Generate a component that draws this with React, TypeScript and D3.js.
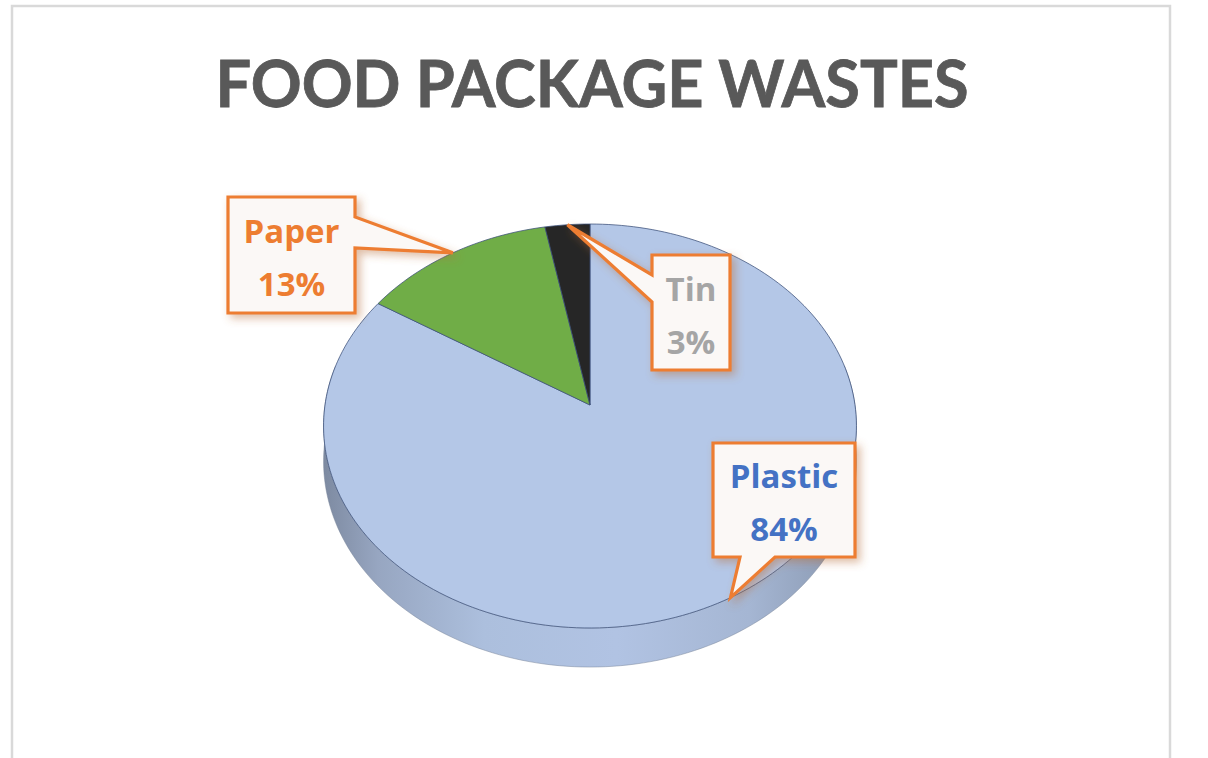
import React, { useEffect, useRef } from 'react';
import * as d3 from 'd3';

// chart data
const categories = ['Plastic', 'Paper', 'Tin'];
const shares = [84, 13, 3];
const title = 'FOOD PACKAGE WASTES';

// styles
const sliceColors = ['#b4c7e7', '#70ad47', '#262626'];
const labelColors = ['#4472c4', '#ed7d31', '#a5a5a5'];

// callout boxes (layout), pointer leaves box on `side` between a and b
const callouts = [
  { x: 713, y: 443, w: 142, h: 114, side: 'bottom', a: 740, b: 775 },
  { x: 228, y: 197, w: 127, h: 116, side: 'right', a: 217, b: 248 },
  { x: 652, y: 255, w: 78, h: 115, side: 'left', a: 275, b: 302 },
];

const W = 1208;
const H = 758;

const App: React.FC = () => {
  const chartRef = useRef<SVGSVGElement>(null);

  useEffect(() => {
    const svg = d3.select(chartRef.current);
    svg.selectAll('*').remove();

    // tilted disc seen in perspective
    const cx = 590;
    const cy = 405;
    const rx = 265;
    const ry = 199.8;
    const persp = 0.104;
    const depth = 35;

    const project = (angle: number, r = 1, drop = 0): [number, number] => {
      const u = r * Math.sin(angle);
      const v = -r * Math.cos(angle);
      const p = 1 / (1 - persp * v);
      return [cx + rx * u * p, cy + (ry * v + drop) * p];
    };
    const rim = (a0: number, a1: number, drop = 0) => {
      const n = Math.max(2, Math.ceil(((a1 - a0) / (Math.PI * 2)) * 240));
      return d3.range(n + 1).map((i) => project(a0 + ((a1 - a0) * i) / n, 1, drop));
    };
    const line = d3.line();

    const arcs = d3.pie<number>().sort(null).value((d) => d)(shares);
    const total = d3.sum(shares);

    const defs = svg.append('defs');
    const shadow = defs
      .append('filter')
      .attr('id', 'callout-shadow')
      .attr('x', '-20%')
      .attr('y', '-20%')
      .attr('width', '150%')
      .attr('height', '150%');
    shadow
      .append('feDropShadow')
      .attr('dx', 4)
      .attr('dy', 4)
      .attr('stdDeviation', 4)
      .attr('flood-color', '#b8703c')
      .attr('flood-opacity', 0.45);

    // chart border
    svg
      .append('rect')
      .attr('x', 12)
      .attr('y', 6)
      .attr('width', 1158)
      .attr('height', 900)
      .attr('fill', '#fff')
      .attr('stroke', '#d9d9d9')
      .attr('stroke-width', 2.5);

    svg
      .append('text')
      .attr('x', 592)
      .attr('y', 107)
      .attr('text-anchor', 'middle')
      .attr('font-family', 'Lato, "Open Sans", sans-serif')
      .attr('font-weight', 700)
      .attr('font-size', 65)
      .attr('fill', '#595959')
      .attr('stroke', '#595959')
      .attr('stroke-width', 0.8)
      .attr('textLength', 753)
      .attr('lengthAdjust', 'spacingAndGlyphs')
      .text(title);

    // side wall (front half only)
    const front0 = Math.PI / 2 - 0.2;
    const front1 = (Math.PI * 3) / 2 + 0.2;
    arcs.forEach((d, i) => {
      const lo = Math.max(d.startAngle, front0);
      const hi = Math.min(d.endAngle, front1);
      if (lo >= hi) return;
      const base = d3.color(sliceColors[i])!;
      const grad = defs
        .append('linearGradient')
        .attr('id', `side-${i}`)
        .attr('gradientUnits', 'userSpaceOnUse')
        .attr('x1', cx - rx)
        .attr('x2', cx + rx)
        .attr('y1', 0)
        .attr('y2', 0);
      [
        [0, base.darker(1.0)],
        [0.1, base.darker(0.5)],
        [0.3, base.darker(0.12)],
        [0.55, base.darker(0.05)],
        [0.8, base.darker(0.25)],
        [1, base.darker(0.8)],
      ].forEach(([o, c]) =>
        grad.append('stop').attr('offset', o as number).attr('stop-color', String(c))
      );
      const pts = rim(lo, hi).concat(rim(lo, hi, depth).reverse());
      svg
        .append('path')
        .attr('d', line(pts) + 'Z')
        .attr('fill', `url(#side-${i})`)
        .attr('stroke', base.darker(1.2).toString())
        .attr('stroke-width', 0.8)
        .attr('stroke-opacity', 0.6);
    });

    // top face slices
    arcs.forEach((d, i) => {
      const pts = [project(0, 0) as [number, number]].concat(rim(d.startAngle, d.endAngle));
      svg
        .append('path')
        .attr('d', line(pts) + 'Z')
        .attr('fill', sliceColors[i])
        .attr('stroke', '#3b4f78')
        .attr('stroke-width', 1)
        .attr('stroke-opacity', 0.75)
        .attr('stroke-linejoin', 'round');
    });

    // callouts
    arcs.forEach((d, i) => {
      const c = callouts[i];
      const tip = project((d.startAngle + d.endAngle) / 2);
      const { x, y, w, h, side, a, b } = c;
      const pts: [number, number][] = [[x, y], [x + w, y]];
      if (side === 'right') pts.push([x + w, a], tip, [x + w, b]);
      pts.push([x + w, y + h]);
      if (side === 'bottom') pts.push([b, y + h], tip, [a, y + h]);
      pts.push([x, y + h]);
      if (side === 'left') pts.push([x, b], tip, [x, a]);

      const g = svg.append('g');
      g.append('path')
        .attr('d', line(pts) + 'Z')
        .attr('fill', '#fbf8f6')
        .attr('stroke', '#ed7d31')
        .attr('stroke-width', 3.2)
        .attr('stroke-linejoin', 'miter')
        .attr('filter', 'url(#callout-shadow)');

      const pct = Math.round((d.value / total) * 100) + '%';
      [categories[i], pct].forEach((t, k) => {
        g.append('text')
          .attr('x', x + w / 2)
          .attr('y', y + h / 2 - 12 + k * 53)
          .attr('text-anchor', 'middle')
          .attr('font-family', '"Open Sans", Lato, sans-serif')
          .attr('font-weight', 700)
          .attr('font-size', 33)
          .attr('fill', labelColors[i])
          .text(t);
      });
    });
  }, []);

  return (
    <svg
      ref={chartRef}
      width={W}
      height={H}
      style={{ position: 'absolute', left: 0, top: 0 }}
    ></svg>
  );
};

export default App;
